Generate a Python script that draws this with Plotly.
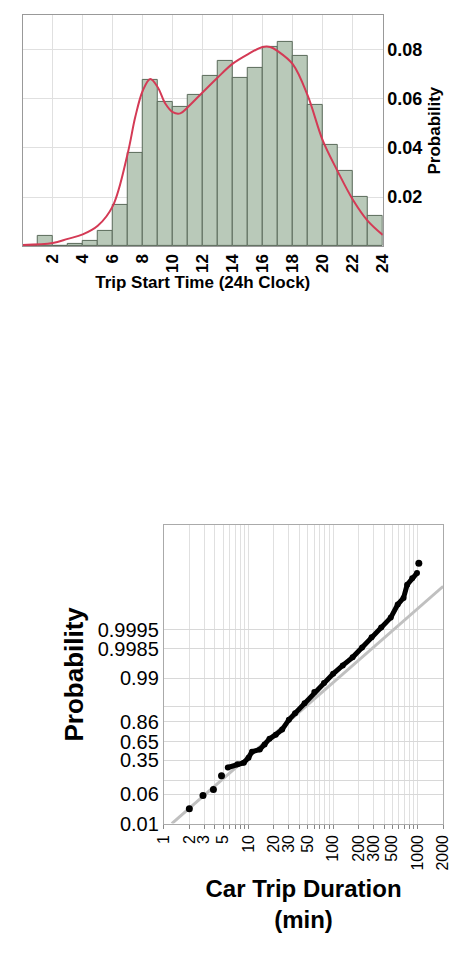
import plotly.graph_objects as go

# top chart: trip start time histogram
bin_left = list(range(24))
bin_prob = [0, 0.0043, 0, 0.001, 0.002, 0.0062, 0.0167, 0.038, 0.0677, 0.0587, 0.0568, 0.0613,
            0.0693, 0.0752, 0.0682, 0.0725, 0.081, 0.0832, 0.0773, 0.0573, 0.041, 0.0307, 0.020, 0.0125]
curve_x = [0, 2, 3, 4, 5, 6, 7, 7.5, 8, 8.5, 9, 9.5, 10, 10.5, 11, 12, 13, 14, 15, 16, 16.5,
           17, 18, 19, 20, 21, 22, 23, 24]
curve_y = [0.0005, 0.0013, 0.003, 0.0048, 0.0083, 0.0163, 0.0378, 0.0525, 0.0632, 0.068, 0.0646,
           0.058, 0.0545, 0.054, 0.0565, 0.0626, 0.0686, 0.0742, 0.078, 0.081, 0.081, 0.0793,
           0.074, 0.0612, 0.043, 0.0304, 0.019, 0.0103, 0.0046]

# bottom chart: probability plot (y in plot-position units, 0..100)
prob_labels = ["0.01", "0.06", "0.35", "0.65", "0.86", "0.99", "0.9985", "0.9995"]
prob_pos = [0, 9.9, 21.2, 27.5, 34.1, 48.7, 58.6, 64.9]
extra_grid = [14.6, 39.2]
sparse_dur = [2.0, 2.9, 3.85, 4.8]
sparse_pos = [5.0, 9.4, 11.4, 16.0]
dur = [5.7, 7.4, 8.8, 10, 11, 13.6, 15.5, 17.7, 21, 25, 30, 35.5, 46, 60,
       78, 100, 130, 170, 220, 285, 370, 480, 580, 680, 750, 860, 980]
dur_pos = [18.8, 19.9, 20.4, 22.1, 24.1, 24.8, 26.5, 28.4, 29.8, 31.5,
           34.8, 37, 40.3, 44.1, 47.1, 50.2, 53, 55.7, 59, 62.4, 65.7, 69, 73.4, 75.6, 80,
           82.2, 83.9]
last_pt = [1030, 87.2]
fit_x = [1.24, 2000]
fit_y = [0, 79.5]
dur_ticks = [1, 2, 3, 5, 10, 20, 30, 50, 100, 200, 300, 500, 1000, 2000]
minor = [4, 6, 7, 8, 9, 40, 60, 70, 80, 90, 400, 600, 700, 800, 900]

F = "Liberation Sans"
fig = go.Figure()
fig.add_trace(go.Bar(x=[b + 0.5 for b in bin_left], y=bin_prob, width=1,
                     marker=dict(color="#b9c9b9", line=dict(color="#5a6a5a", width=1)),
                     xaxis="x", yaxis="y"))
fig.add_trace(go.Scatter(x=curve_x, y=curve_y, mode="lines", line=dict(color="#d43a55", width=2, shape="spline"),
                         xaxis="x", yaxis="y"))
fig.add_trace(go.Scatter(x=fit_x, y=fit_y, mode="lines", line=dict(color="#c0c0c0", width=3),
                         xaxis="x2", yaxis="y2"))
fig.add_trace(go.Scatter(x=dur, y=dur_pos, mode="lines+markers", line=dict(color="black", width=5),
                         marker=dict(color="black", size=6), xaxis="x2", yaxis="y2"))
fig.add_trace(go.Scatter(x=sparse_dur + [last_pt[0]], y=sparse_pos + [last_pt[1]], mode="markers",
                         marker=dict(color="black", size=7), xaxis="x2", yaxis="y2"))

grid = "#e0e0e0"
fig.update_layout(
    width=474, height=967, showlegend=False, plot_bgcolor="white", paper_bgcolor="white",
    margin=dict(l=0, r=0, t=0, b=0), bargap=0, font=dict(family=F, color="black"),
    xaxis=dict(domain=[6/474, 381/474], range=[0, 24], tickvals=list(range(2, 25, 2)),
               ticktext=["<b>%d</b>" % v for v in range(2, 25, 2)],
               tickangle=-90, tickfont=dict(size=17, family=F), showgrid=True, gridcolor=grid,
               dtick=1, showline=True, linecolor="#999", mirror=True, ticks="",
               title=dict(text="<b>Trip Start Time (24h Clock)</b>", font=dict(size=17), standoff=4)),
    yaxis=dict(domain=[1 - 241/967, 1 - 7/967], range=[0, 0.094], side="right",
               tickvals=[0.02, 0.04, 0.06, 0.08], ticktext=["<b>0.02</b>", "<b>0.04</b>", "<b>0.06</b>", "<b>0.08</b>"],
               tickfont=dict(size=18), showgrid=True, gridcolor=grid, showline=True, linecolor="#999",
               mirror=True, title=dict(text="<b>Probability</b>", font=dict(size=17), standoff=6)),
    xaxis2=dict(domain=[153/474, 444/474], type="log", range=[0, 3.301], anchor="y2",
                tickvals=dur_ticks + minor, ticktext=[str(t) for t in dur_ticks] + [""] * len(minor),
                tickangle=-90, tickfont=dict(size=16), showgrid=True, gridcolor=grid,
                showline=True, linecolor="#aaa", mirror=True, ticks="outside", ticklen=4, tickcolor="#888",
                title=dict(text="<b>Car Trip Duration<br>(min)</b>", font=dict(size=24), standoff=10)),
    yaxis2=dict(domain=[1 - 825/967, 1 - 523/967], range=[0, 100], anchor="x2",
                tickvals=prob_pos + extra_grid, ticktext=prob_labels + ["", ""],
                tickfont=dict(size=20), showgrid=True, gridcolor="#d8d8d8", zeroline=False,
                showline=True, linecolor="#aaa", mirror=True,
                title=dict(text="<b>Probability</b>", font=dict(size=26), standoff=6)),
)
fig.write_html("out.html")
